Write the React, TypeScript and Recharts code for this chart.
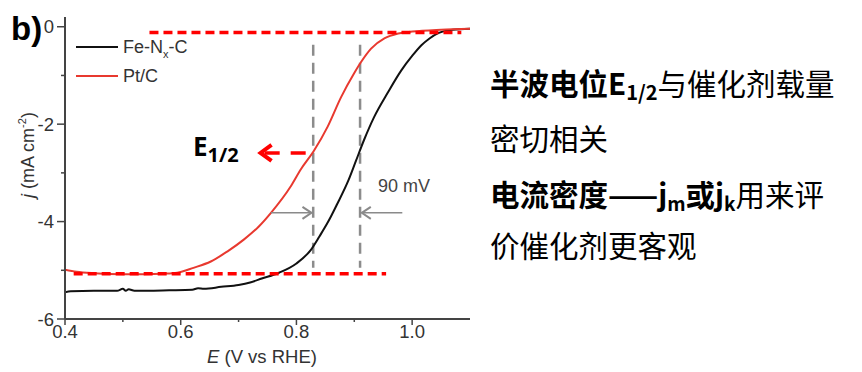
import React from 'react';
import { LineChart, Line, XAxis, YAxis, ReferenceLine } from 'recharts';

// Fe-Nx-C polarization curve (potential in V vs RHE, current in mA cm-2)
const fePotential = [0.4, 0.41, 0.45, 0.49, 0.5, 0.505, 0.51, 0.52, 0.58, 0.62, 0.63, 0.64, 0.67, 0.7, 0.72, 0.74, 0.77, 0.8, 0.825, 0.84, 0.855, 0.87, 0.89, 0.903, 0.917, 0.934, 0.958, 0.981, 1.0, 1.016, 1.03, 1.045, 1.07, 1.1];
const feCurrent = [-5.45, -5.43, -5.42, -5.42, -5.38, -5.42, -5.39, -5.42, -5.41, -5.4, -5.37, -5.38, -5.34, -5.3, -5.25, -5.17, -5.05, -4.86, -4.58, -4.3, -4.0, -3.65, -3.15, -2.75, -2.32, -1.86, -1.35, -0.9, -0.6, -0.38, -0.24, -0.13, -0.06, -0.04];

// Pt/C polarization curve
const ptPotential = [0.4, 0.42, 0.45, 0.5, 0.535, 0.57, 0.594, 0.622, 0.652, 0.681, 0.709, 0.735, 0.756, 0.79, 0.808, 0.83, 0.854, 0.877, 0.9, 0.912, 0.929, 0.952, 0.976, 1.0, 1.05, 1.1];
const ptCurrent = [-4.99, -5.03, -5.06, -5.08, -5.08, -5.07, -5.05, -4.95, -4.82, -4.61, -4.37, -4.1, -3.82, -3.28, -2.92, -2.55, -2.05, -1.45, -0.95, -0.72, -0.45, -0.24, -0.14, -0.1, -0.06, -0.04];

const xTicks = [0.4, 0.5, 0.6, 0.7, 0.8, 0.9, 1.0];
const xLabelTicks = [0.4, 0.6, 0.8, 1.0];
const yTicks = [0, -1, -2, -3, -4, -5, -6];
const yLabelTicks = [0, -2, -4, -6];

// annotations (data units)
const halfWavePotentials = [0.829, 0.91];
const halfWaveSpan = [-0.37, -4.95];
const topPlateau = { from: 0.546, to: 1.085, level: -0.12 };
const bottomPlateau = { from: 0.415, to: 0.955, level: -5.07 };
const e12Arrow = { from: 0.816, to: 0.738, level: -2.59 };
const gapArrowLevel = -3.82;
const gapArrowLeft = [0.756, 0.826];
const gapArrowRight = [0.983, 0.913];

const feData = fePotential.map((e, i) => ({ e, j: feCurrent[i] }));
const ptData = ptPotential.map((e, i) => ({ e, j: ptCurrent[i] }));

const AXIS = '#444';
const LABEL = '#333';
const FONT = '"Liberation Sans", Arial, sans-serif';
const CJK = '"Noto Sans CJK SC", sans-serif';

const isIn = (list: number[], v: number) => list.some((t) => Math.abs(t - v) < 1e-6);

const XTick = (p: any) => {
  const { x, y, payload } = p;
  const major = isIn(xLabelTicks, payload.value);
  return (
    <g>
      <line x1={x} x2={x} y1={y} y2={y + (major ? 6 : 3)} stroke={AXIS} strokeWidth={1.5} />
      {major && (
        <text x={x} y={y + 19} textAnchor="middle" fontSize={18.5} fill={LABEL} fontFamily={FONT}>
          {payload.value.toFixed(1)}
        </text>
      )}
    </g>
  );
};

const YTick = (p: any) => {
  const { x, y, payload } = p;
  const major = isIn(yLabelTicks, payload.value);
  return (
    <g>
      <line x1={x - (major ? 8 : 4)} x2={x} y1={y} y2={y} stroke={AXIS} strokeWidth={1.5} />
      {major && (
        <text x={x - 11} y={y} dy="0.36em" textAnchor="end" fontSize={18.5} fill={LABEL} fontFamily={FONT}>
          {String(payload.value)}
        </text>
      )}
    </g>
  );
};

const arrowShape = (color: string, width: number, dash: string | undefined, headLen: number, headHalf: number, headWidth: number) =>
  (p: any) => {
    const { x1, y1, x2, y2 } = p;
    const ang = Math.atan2(y2 - y1, x2 - x1);
    const bx = x2 - headLen * Math.cos(ang);
    const by = y2 - headLen * Math.sin(ang);
    const ax = bx + headHalf * Math.sin(ang);
    const ay = by - headHalf * Math.cos(ang);
    const cx = bx - headHalf * Math.sin(ang);
    const cy = by + headHalf * Math.cos(ang);
    return (
      <g>
        <line x1={x1} y1={y1} x2={x2} y2={y2} stroke={color} strokeWidth={width} strokeDasharray={dash} />
        <polyline points={`${ax},${ay} ${x2},${y2} ${cx},${cy}`} fill="none" stroke={color} strokeWidth={headWidth} strokeLinejoin="miter" />
      </g>
    );
  };

const series = [
  { key: 'fe', data: feData, color: '#111111' },
  { key: 'pt', data: ptData, color: '#e8392f' },
];

export default function App() {
  return (
    <div style={{ position: 'fixed', left: 0, top: 0, width: 862, height: 372, background: '#fff', overflow: 'hidden' }}>
      <div style={{ position: 'absolute', left: 0, top: 0 }}>
        <LineChart width={480} height={372} margin={{ top: 17, right: 10, bottom: 0, left: 0 }}>
          <XAxis
            type="number"
            dataKey="e"
            domain={[0.4, 1.1]}
            ticks={xTicks}
            interval={0}
            allowDataOverflow
            tickSize={0}
            tickMargin={0}
            tickLine={false}
            tick={(p: any) => <XTick {...p} />}
            axisLine={{ stroke: AXIS, strokeWidth: 2 }}
            height={53}
          />
          <XAxis xAxisId="top" orientation="top" type="number" domain={[0.4, 1.1]} tick={false} tickLine={false} axisLine={{ stroke: AXIS, strokeWidth: 2 }} height={0} />
          <YAxis
            type="number"
            domain={[-6, 0.2]}
            ticks={yTicks}
            interval={0}
            allowDataOverflow
            tickSize={0}
            tickMargin={0}
            tickLine={false}
            tick={(p: any) => <YTick {...p} />}
            axisLine={{ stroke: AXIS, strokeWidth: 2 }}
            width={65}
          />
          <YAxis yAxisId="right" orientation="right" type="number" domain={[-6, 0.2]} tick={false} tickLine={false} axisLine={{ stroke: AXIS, strokeWidth: 2 }} width={0} />

          {halfWavePotentials.map((e) => (
            <ReferenceLine
              key={e}
              segment={[{ x: e, y: halfWaveSpan[0] }, { x: e, y: halfWaveSpan[1] }]}
              stroke="#8c8c8c"
              strokeWidth={2.5}
              strokeDasharray="11 7"
            />
          ))}

          {series.map((s) => (
            <Line
              key={s.key}
              data={s.data}
              dataKey="j"
              type="monotone"
              stroke={s.color}
              strokeWidth={2}
              dot={false}
              activeDot={false}
              isAnimationActive={false}
            />
          ))}

          {[topPlateau, bottomPlateau].map((p) => (
            <ReferenceLine
              key={p.level}
              segment={[{ x: p.from, y: p.level }, { x: p.to, y: p.level }]}
              stroke="#ff0000"
              strokeWidth={3.5}
              strokeDasharray="9 5"
            />
          ))}

          <ReferenceLine
            segment={[{ x: e12Arrow.from, y: e12Arrow.level }, { x: e12Arrow.to, y: e12Arrow.level }]}
            shape={arrowShape('#ff0000', 3.5, '15 11', 11, 8, 4)}
          />
          <ReferenceLine
            segment={[{ x: gapArrowLeft[0], y: gapArrowLevel }, { x: gapArrowLeft[1], y: gapArrowLevel }]}
            shape={arrowShape('#8a8a8a', 1.5, undefined, 9, 6, 2)}
          />
          <ReferenceLine
            segment={[{ x: gapArrowRight[0], y: gapArrowLevel }, { x: gapArrowRight[1], y: gapArrowLevel }]}
            shape={arrowShape('#8a8a8a', 1.5, undefined, 9, 6, 2)}
          />
        </LineChart>
      </div>

      <svg width={862} height={372} style={{ position: 'absolute', left: 0, top: 0, pointerEvents: 'none' }}>
        {/* panel tag */}
        <text x={11} y={40} fontSize={33} fontWeight={900} fontFamily={FONT} fill="#000">b)</text>

        {/* legend */}
        <line x1={76} x2={118} y1={47} y2={47} stroke={series[0].color} strokeWidth={2} />
        <text x={123} y={53} fontSize={18} fontFamily={FONT} fill={LABEL}>
          Fe-N<tspan fontSize={11} dy={5}>x</tspan><tspan dy={-5}>-C</tspan>
        </text>
        <line x1={76} x2={118} y1={76} y2={76} stroke={series[1].color} strokeWidth={2} />
        <text x={123} y={82} fontSize={18} fontFamily={FONT} fill={LABEL}>Pt/C</text>

        {/* axis titles */}
        <text x={262} y={363} fontSize={18.5} textAnchor="middle" fontFamily={FONT} fill={LABEL}>
          <tspan fontStyle="italic">E</tspan> (V vs RHE)
        </text>
        <text transform="translate(34,155) rotate(-90)" fontSize={18} textAnchor="middle" fontFamily={FONT} fill={LABEL}>
          <tspan fontStyle="italic">j</tspan> (mA cm<tspan fontSize={11} dy={-8}>-2</tspan><tspan dy={8}>)</tspan>
        </text>

        {/* annotations */}
        <text x={378} y={192} fontSize={18} fontFamily={FONT} fill="#444">90 mV</text>
        <text x={193} y={156} fontSize={26} fontWeight={700} fontFamily='"Open Sans", sans-serif' fill="#000">
          E<tspan fontSize={20} dy={6}>1/2</tspan>
        </text>

        {/* side notes */}
        <g fontFamily={CJK} fontSize={29.5} fill="#000">
          <text x={490} y={95}>
            <tspan fontWeight={700}>半波电位E</tspan>
            <tspan fontWeight={700} fontSize={20} dy={5}>1/2</tspan>
            <tspan dy={-5}>与催化剂载量</tspan>
          </text>
          <text x={490} y={150}>密切相关</text>
          <text x={490} y={206}>
            <tspan fontWeight={700}>电流密度——j</tspan>
            <tspan fontWeight={700} fontSize={19} dy={5}>m</tspan>
            <tspan fontWeight={700} dy={-5}>或j</tspan>
            <tspan fontWeight={700} fontSize={19} dy={5}>k</tspan>
            <tspan dy={-5}>用来评</tspan>
          </text>
          <text x={490} y={257}>价催化剂更客观</text>
        </g>
      </svg>
    </div>
  );
}
